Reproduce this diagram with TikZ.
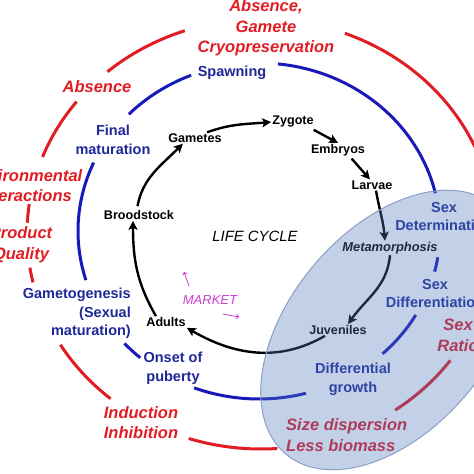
\documentclass[tikz,border=0pt]{standalone}
\usepackage{fontspec}
\setmainfont{Liberation Sans}
\usetikzlibrary{arrows.meta}
\definecolor{redc}{RGB}{225,28,35}
\definecolor{bluec}{RGB}{25,25,185}
\definecolor{bluet}{RGB}{30,40,150}
\definecolor{magc}{RGB}{205,60,205}
\definecolor{ellc}{RGB}{80,120,190}
\definecolor{elld}{RGB}{140,160,195}
\begin{document}
\begin{tikzpicture}[x=1pt,y=1pt,
  redarc/.style={draw=redc, line width=3pt},
  bluearc/.style={draw=bluec, line width=3pt},
  blk/.style={font=\fontsize{12.6}{15}\selectfont\bfseries, inner sep=1pt, text=black},
  bt/.style={font=\fontsize{14.5}{18.5}\selectfont\bfseries, text=bluet, align=center, inner sep=1pt},
  rt/.style={font=\fontsize{16.5}{20.5}\selectfont\bfseries\itshape, text=redc, align=center, inner sep=1pt},
  arr/.style={draw=black, line width=2.4pt, -{Stealth[length=9pt,width=9pt,inset=2pt]}},
  marr/.style={draw=magc, line width=0.8pt, -{To[length=3pt,width=5pt]}},
]
\useasboundingbox (0,0) rectangle (474,474);
\clip (0,0) rectangle (474,474);
\coordinate (cr) at (261,240);
\coordinate (cb) at (259,243);
% red ring
\foreach \a/\b in {131/109, 69/-20, -36/-55, -86/-108, -130/-149, -167/-171, 172/177, 159/142}
  \draw[redarc] ([shift={(\a:234 and 215)}]cr) arc[start angle=\a, end angle=\b, x radius=234, y radius=215];
% blue ring
\foreach \a/\b in {136/112, 84/13, -9/-14, -30/-47, -75/-111, -131/-138, 156/197}
  \draw[bluearc] ([shift={(\a:181 and 168)}]cb) arc[start angle=\a, end angle=\b, x radius=181, y radius=168];
% life cycle nodes
\node[blk] (gam) at (195,336) {Gametes};
\node[blk] (zyg) at (293,352) {Zygote};
\node[blk] (emb) at (338,324) {Embryos};
\node[blk] (lar) at (372,289) {Larvae};
\node[blk, font=\fontsize{12.9}{15}\selectfont\bfseries\itshape] (met) at (390,226) {Metamorphosis};
\node[blk] (juv) at (338,144) {Juveniles};
\node[blk] (adu) at (166,152) {Adults};
\node[blk] (bro) at (139,259) {Broodstock};
\node[font=\fontsize{14.9}{17}\selectfont\itshape] (lc) at (255,238) {LIFE CYCLE};
\node[font=\fontsize{13}{15}\selectfont\itshape, text=magc] (mkt) at (210,174) {MARKET};
% blue labels
\node[bt] (spw) at (232,401) {Spawning};
\node[bt] (fin) at (113,334) {Final\\maturation};
\node[bt, align=right, anchor=east] (gtg) at (132,160.5) {Gametogenesis\\(Sexual\\maturation)};
\node[bt] (ons) at (173,105.5) {Onset of\\puberty};
\node[bt] (sdt) at (444,257.5) {Sex\\Determination};
\node[bt] (sdf) at (435,180.5) {Sex\\Differentiation};
\node[bt] (dgr) at (353,94.5) {Differential\\growth};
% red labels
\node[rt] (agc) at (266,446) {Absence,\\Gamete\\Cryopreservation};
\node[rt] (abs) at (97,387) {Absence};
\node[rt] (env) at (25,288.5) {Environmental\\Interactions};
\node[rt] (pq) at (21,229.5) {Product\\Quality};
\node[rt] (ind) at (141,51.5) {Induction\\Inhibition};
\node[rt, align=left, anchor=west] (sdl) at (285,39) {Size dispersion\\Less biomass};
\node[rt] (sr) at (458,138.5) {Sex\\Ratio};
% cycle arrows
\draw[arr, shorten <=3pt] ([xshift=-2pt]bro.north) to[out=80,in=225] (gam.205);
\draw[arr] ([xshift=12pt]gam.north) to[out=20,in=185] (zyg.west);
\draw[arr, shorten <=2pt] (zyg.-20) -- (emb.north);
\draw[arr, shorten <=2pt] (emb.-30) -- (lar.110);
\draw[arr] ([xshift=4pt]lar.south) to[out=-80,in=95] ([xshift=-5pt]met.north);
\draw[arr] (met.south) to[out=-95,in=55] ([xshift=10pt]juv.north);
\draw[arr] ([xshift=-13pt]juv.south) to[out=-150,in=-30] (adu.south east);
\draw[arr] ([xshift=-10pt]adu.north) to[out=120,in=-90] ([xshift=-6pt]bro.south);
% market arrows
\coordinate (m1) at (184,202);
\coordinate (m2) at (239,157);
\draw[marr] ([shift={(-21pt,6pt)}]mkt.north) -- (m1);
\draw[marr] ([shift={(13pt,-6pt)}]mkt.south) -- (m2);
% shaded ellipse
\draw[fill=ellc, fill opacity=0.35, draw=elld, line width=1pt, rotate around={50:(390,144)}] (390,144) ellipse [x radius=162, y radius=100];
\end{tikzpicture}
\end{document}
